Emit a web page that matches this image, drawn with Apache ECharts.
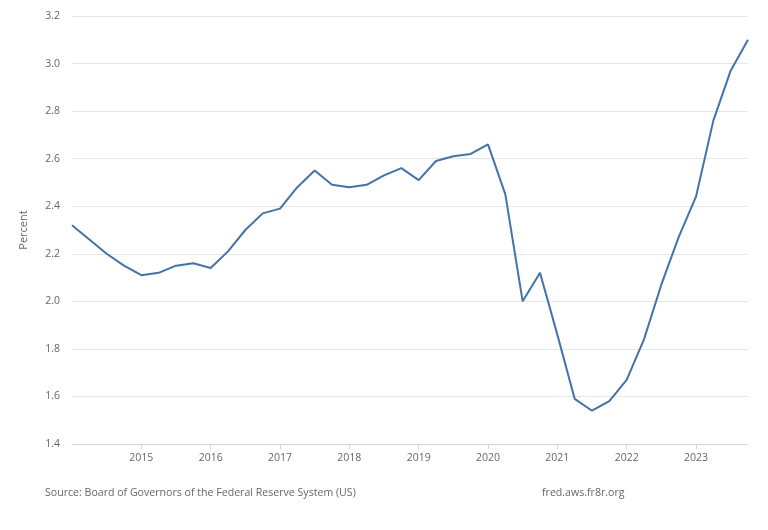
<!DOCTYPE html>
<html>
<head>
<meta charset="utf-8">
<script src="https://cdn.jsdelivr.net/npm/echarts@6/dist/echarts.min.js"></script>
<style>html,body{margin:0;padding:0;background:#fff}#c{width:768px;height:530px}</style>
</head>
<body>
<div id="c"></div>
<script>
var dates = [
 '2014-01-01','2014-04-01','2014-07-01','2014-10-01',
 '2015-01-01','2015-04-01','2015-07-01','2015-10-01',
 '2016-01-01','2016-04-01','2016-07-01','2016-10-01',
 '2017-01-01','2017-04-01','2017-07-01','2017-10-01',
 '2018-01-01','2018-04-01','2018-07-01','2018-10-01',
 '2019-01-01','2019-04-01','2019-07-01','2019-10-01',
 '2020-01-01','2020-04-01','2020-07-01','2020-10-01',
 '2021-01-01','2021-04-01','2021-07-01','2021-10-01',
 '2022-01-01','2022-04-01','2022-07-01','2022-10-01',
 '2023-01-01','2023-04-01','2023-07-01','2023-10-01'
];
var values = [
 2.32, 2.26, 2.20, 2.15,
 2.11, 2.12, 2.15, 2.16,
 2.14, 2.21, 2.30, 2.37,
 2.39, 2.48, 2.55, 2.49,
 2.48, 2.49, 2.53, 2.56,
 2.51, 2.59, 2.61, 2.62,
 2.66, 2.45, 2.00, 2.12,
 1.86, 1.59, 1.54, 1.58,
 1.67, 1.84, 2.07, 2.27,
 2.44, 2.76, 2.97, 3.10
];
var yTicks = [1.4, 1.6, 1.8, 2.0, 2.2, 2.4, 2.6, 2.8, 3.0, 3.2];
var yAxisName = 'Percent';
var sourceText = 'Source: Board of Governors of the Federal Reserve System (US)';
var siteText = 'fred.aws.fr8r.org';

function toYear(d) {
  var p = d.split('-');
  return (+p[0]) + (+p[1] - 1) / 12;
}
var seriesData = dates.map(function (d, i) { return [toYear(d), values[i]]; });

var font = '"Open Sans", "Noto Sans", sans-serif';
var chart = echarts.init(document.getElementById('c'), null, {renderer: 'canvas'});
chart.setOption({
  animation: false,
  backgroundColor: '#ffffff',
  grid: {left: 72, right: 20, top: 16, bottom: 86, containLabel: false},
  xAxis: {
    type: 'value',
    min: toYear(dates[0]),
    max: toYear(dates[dates.length - 1]),
    interval: 1,
    axisLine: {show: true, lineStyle: {color: '#ccd6eb', width: 1}},
    axisTick: {show: true, length: 5, lineStyle: {color: '#ccd6eb'}},
    splitLine: {show: false},
    axisLabel: {
      showMinLabel: false, showMaxLabel: false,
      color: '#666666', fontSize: 10.5, fontFamily: font, margin: 9,
      formatter: function (v) { return Math.abs(v - Math.round(v)) < 1e-6 ? String(Math.round(v)) : ''; }
    }
  },
  yAxis: {
    type: 'value',
    min: yTicks[0],
    max: yTicks[yTicks.length - 1],
    interval: 0.2,
    name: yAxisName,
    nameLocation: 'middle',
    nameGap: 43,
    nameRotate: 90,
    nameTextStyle: {color: '#666666', fontSize: 11, fontFamily: font},
    axisLine: {show: false},
    axisTick: {show: false},
    splitLine: {show: true, lineStyle: {color: '#e6e6e6', width: 1}},
    axisLabel: {
      color: '#666666', fontSize: 10.5, fontFamily: font, margin: 12,
      formatter: function (v) { return v.toFixed(1); }
    }
  },
  series: [{
    type: 'line',
    data: seriesData,
    showSymbol: false,
    symbol: 'none',
    lineStyle: {color: '#4572a7', width: 2},
    itemStyle: {color: '#4572a7'}
  }],
  graphic: [
    {type: 'text', left: 45, top: 487, style: {text: sourceText, fill: '#666666', fontSize: 10.6, fontFamily: font}},
    {type: 'text', left: 542, top: 487, style: {text: siteText, fill: '#666666', fontSize: 10.6, fontFamily: font}}
  ]
});
</script>
</body>
</html>
